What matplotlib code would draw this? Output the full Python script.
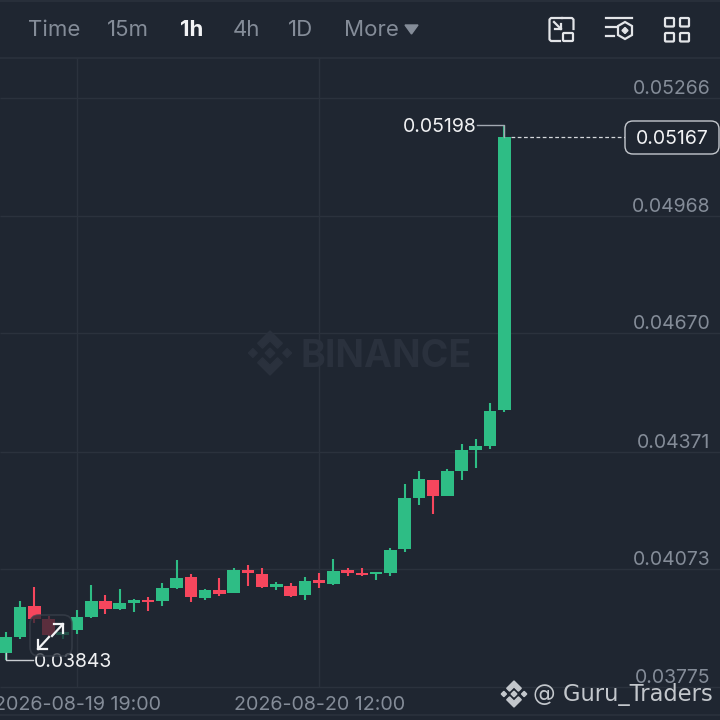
#binance style candlestick screenshot
import matplotlib
matplotlib.use('Agg')
import matplotlib.pyplot as plt
from matplotlib.patches import FancyBboxPatch, Polygon

#hourly candles, first one is 2026-08-19 14:00
opens = [.03862,.03901,.03980,.03946,.03907,.03919,.03953,.03993,.03972,.03988,.03995,.03992,
         .04026,.04054,.04000,.04021,.04014,.04072,.04062,.04029,.04031,.04007,.04046,.04036,
         .04071,.04064,.04062,.04063,.04124,.04254,.04299,.04258,.04322,.04375,.04385,.04476]
highs = [.03915,.03993,.04027,.03955,.03917,.03969,.04034,.04007,.04023,.03998,.04004,.04039,
         .04096,.04061,.04022,.04050,.04075,.04084,.04077,.04042,.04037,.04053,.04064,.04098,
         .04077,.04077,.04067,.04128,.04288,.04321,.04300,.04326,.04390,.04402,.04493,.05198]
lows = [.03843,.03897,.03938,.03902,.03896,.03909,.03950,.03960,.03971,.03966,.03968,.03981,
        .04022,.03990,.03995,.04005,.04012,.04031,.04026,.04021,.04004,.03995,.04026,.04033,
        .04057,.04055,.04046,.04057,.04117,.04236,.04213,.04258,.04299,.04330,.04377,.04471]
closes = [.03901,.03978,.03946,.03907,.03915,.03951,.03993,.03972,.03987,.03995,.03989,.04025,
          .04052,.04002,.04021,.04010,.04071,.04063,.04027,.04035,.04006,.04044,.04037,.04069,
          .04063,.04058,.04066,.04122,.04253,.04301,.04258,.04322,.04376,.04384,.04474,.05167]

price_ticks = [.05266,.04968,.04670,.04371,.04073,.03775]
time_pos = [5,22]
time_labels = ['2026-08-19 19:00','2026-08-20 12:00']
tabs = ['Time','15m','1h','4h','1D','More']
tab_x = [28,107,180,233,288,344]

BG='#1f2631'
GRID='#2b323d'
GREEN='#2ebd85'
RED='#f6465d'
MUTED='#848c98'
FONT='Inter'

plt.rcParams['font.family']=[FONT,'DejaVu Sans']

fig=plt.figure(figsize=(7.2,7.2),dpi=100,facecolor=BG)
ax=fig.add_axes([0,0,1,1],facecolor=BG)
ax.set_xlim(-0.407,50.15)
ax.set_ylim(.036915,.055138)
for s in ax.spines.values():
    s.set_visible(False)

#grid
ax.vlines(time_pos,price_ticks[-1],.05366,color=GRID,lw=1,zorder=1)
ax.hlines(price_ticks,-0.407,50.15,color=GRID,lw=1,zorder=1)

#watermark behind the candles
ax.text(0.418,0.5045,'BINANCE',transform=ax.transAxes,fontsize=27,fontweight='bold',
        color='#2a313d',ha='left',va='center',zorder=1.5)

#candles
for i in range(len(opens)):
    c=GREEN if closes[i]>=opens[i] else RED
    ax.vlines(i,lows[i],highs[i],color=c,lw=1.5,zorder=3)
    ax.bar(i,abs(closes[i]-opens[i]),bottom=min(opens[i],closes[i]),width=0.88,color=c,zorder=3)

#axis labels
ax.set_xticks(time_pos)
ax.set_xticklabels(time_labels)
ax.yaxis.tick_right()
ax.set_yticks(price_ticks)
ax.set_yticklabels(['%.5f'%p for p in price_ticks])
ax.tick_params(axis='x',length=0,pad=-17.5,labelsize=14.2,labelcolor=MUTED)
ax.tick_params(axis='y',length=0,pad=-7,labelsize=14,labelcolor=MUTED)
for t in ax.get_yticklabels():
    t.set_ha('right')
    t.set_va('bottom')

#high, low and last price markers
hi=highs.index(max(highs))
lo=lows.index(min(lows))
ax.plot([hi-1.9,hi,hi],[highs[hi],highs[hi],closes[hi]],color='#a3a9b2',lw=1,zorder=4)
ax.plot([lo,lo,lo+1.9],[opens[lo],lows[lo],lows[lo]],color='#c9cdd2',lw=1,zorder=4)
ax.annotate('%.5f'%highs[hi],(hi-1.97,highs[hi]),xytext=(0,-1.5),textcoords='offset points',
            color='#f0f1f3',fontsize=14,ha='right',va='center',zorder=4)
ax.annotate('%.5f'%lows[lo],(lo+2.0,lows[lo]),xytext=(0,-1.5),textcoords='offset points',
            color='#f0f1f3',fontsize=14,ha='left',va='center',zorder=4)
ax.plot([hi+0.45,hi+8.6],[closes[-1],closes[-1]],color='#d5d8dc',lw=0.9,ls=(0,(3,2)),zorder=4)

#screen furniture in pixel coordinates
ov=fig.add_axes([0,0,1,1],facecolor='none')
ov.set_xlim(0,720)
ov.set_ylim(720,0)
ov.axis('off')

for y in [1,58,715]:
    ov.plot([0,720],[y,y],color=GRID,lw=1.2)

for name,x in zip(tabs,tab_x):
    active=name=='1h'
    ov.text(x,29.5,name,fontsize=16,ha='left',va='center',
            color='#f2f3f5' if active else MUTED,fontweight='bold' if active else 'normal')
ov.add_patch(Polygon([(405,25),(418,25),(411.5,34)],color=MUTED))

#last price box
ov.add_patch(FancyBboxPatch((625,121),94,33,boxstyle='round,pad=0,rounding_size=8',fc=BG,ec='#c4c8ce',lw=1,zorder=5))
ov.text(672.5,139,'%.5f'%closes[-1],color='#f2f3f5',fontsize=14,ha='center',va='center',zorder=6)

#top right icons
W='#e3e5e8'
ov.plot([562,551,549.5,549.5,551,560],[18,18,19.5,39.5,41,41],color=W,lw=1.6)
ov.plot([562,572,573.5,573.5],[18,18,19.5,29],color=W,lw=1.6)
ov.add_patch(FancyBboxPatch((563,33),10,8,boxstyle='round,pad=0,rounding_size=1',fc='none',ec=W,lw=1.6))
ov.plot([554,561],[22,29],color=W,lw=1.6)
ov.plot([561,561,555],[23.5,29,29],color=W,lw=1.6)

ov.plot([606,632],[18,18],color=W,lw=1.6)
ov.plot([606,616],[27,27],color=W,lw=1.6)
ov.plot([606,614],[36,36],color=W,lw=1.6)
ov.add_patch(Polygon([(625,22),(632,26),(632,35),(625,39),(618,35),(618,26)],fc='none',ec=W,lw=1.6))
ov.add_patch(Polygon([(625,27.5),(628,30.5),(625,33.5),(622,30.5)],color=W))

for x0 in [665,680]:
    for y0 in [18,33]:
        ov.add_patch(FancyBboxPatch((x0,y0),9,8.5,boxstyle='round,pad=0,rounding_size=1',fc='none',ec=W,lw=1.6))

#expand button over the first candles
ov.add_patch(FancyBboxPatch((30,615),42,41,boxstyle='round,pad=0,rounding_size=9',fc=BG,ec='#3a414c',
                            alpha=0.72,lw=1.2,zorder=7))
ov.plot([52,63],[636,624],color='#f2f3f5',lw=1.6,zorder=8)
ov.plot([54,63,63],[624,624,633],color='#f2f3f5',lw=1.6,zorder=8)
ov.plot([49,38],[637,649],color='#f2f3f5',lw=1.6,zorder=8)
ov.plot([38,38,47],[640,649,649],color='#f2f3f5',lw=1.6,zorder=8)

#binance logo
def logo(cx,cy,s,color,z=2):
    top=[(0,-1),(.56,-.44),(.34,-.22),(0,-.56),(-.34,-.22),(-.56,-.44)]
    ov.add_patch(Polygon([(cx+a*s,cy+b*s) for a,b in top],color=color,zorder=z))
    ov.add_patch(Polygon([(cx+a*s,cy-b*s) for a,b in top],color=color,zorder=z))
    for dx,r in [(-.78,.2),(0,.22),(.78,.2)]:
        ov.add_patch(Polygon([(cx+(dx-r)*s,cy),(cx+dx*s,cy-r*s),(cx+(dx+r)*s,cy),(cx+dx*s,cy+r*s)],color=color,zorder=z))

logo(270,353,22,'#2a313d',1)
logo(514,694,13,'#c3c7cc',9)
ov.text(533,694,'@ Guru_Traders',fontsize=16.3,family='DejaVu Sans',color='#c3c7cc',ha='left',va='center',zorder=9)

fig.savefig('out.png',dpi=100,facecolor=BG)
